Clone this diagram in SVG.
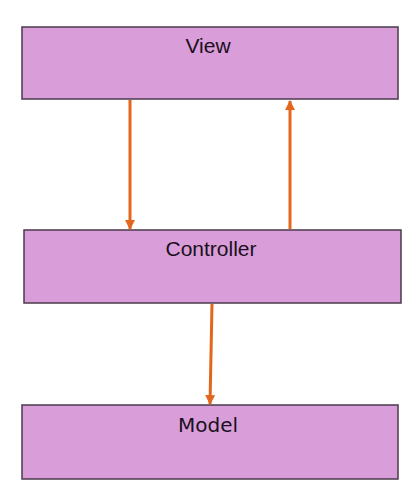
<svg xmlns="http://www.w3.org/2000/svg" width="420" height="500" viewBox="0 0 420 500">
<style>
.box{fill:#d99ed9;stroke:#4a3a4a;stroke-width:1.5}
.lbl{font-family:"Liberation Sans",Arial,sans-serif;font-size:21px;fill:#1a1020;text-anchor:middle}
.lbl2{font-family:"DejaVu Sans",Verdana,sans-serif;font-size:20px;fill:#1a1020;text-anchor:middle}
.conn{stroke:#e2661c;stroke-width:3;fill:none}
</style>
<defs>
<marker id="ah" viewBox="0 0 10 10" refX="9" refY="5" markerWidth="3.3" markerHeight="3.3" orient="auto" markerUnits="strokeWidth">
<path d="M0,0 L10,5 L0,10 z" fill="#e2661c"/>
</marker>
</defs>
<rect width="420" height="500" fill="#ffffff"/>
<g id="view"><rect class="box" x="22" y="27" width="376" height="72"/><text class="lbl" x="208" y="53">View</text></g>
<g id="controller"><rect class="box" x="24" y="230" width="377" height="73"/><text class="lbl" x="211" y="256">Controller</text></g>
<g id="model"><rect class="box" x="22" y="405" width="376" height="74"/><text class="lbl2" x="208" y="432">Model</text></g>
<g id="connectors">
<line class="conn" x1="130" y1="100" x2="130" y2="229" marker-end="url(#ah)"/>
<line class="conn" x1="290" y1="229" x2="290" y2="101" marker-end="url(#ah)"/>
<line class="conn" x1="212" y1="304" x2="210" y2="404" marker-end="url(#ah)"/>
</g>
</svg>
